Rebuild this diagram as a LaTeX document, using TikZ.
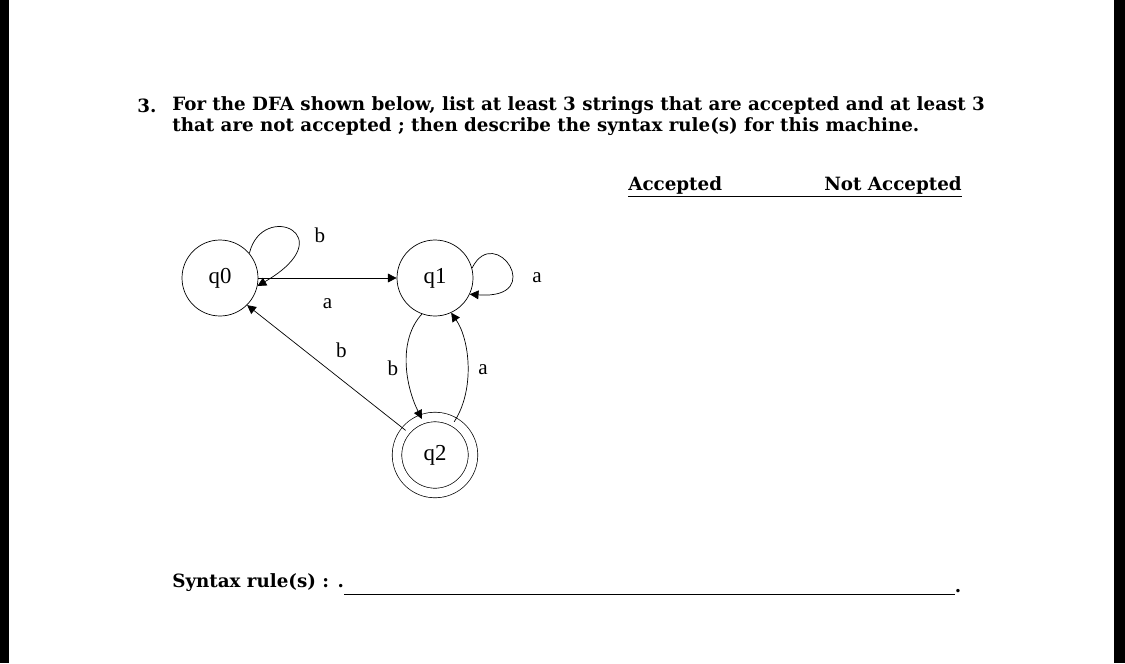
\documentclass[tikz,border=0pt]{standalone}
\usepackage{fontspec}
\setmainfont{DejaVu Serif}
\newfontfamily\statefont{Liberation Serif}
\usetikzlibrary{arrows.meta}
\begin{document}
\begin{tikzpicture}[x=0.02cm,y=-0.02cm,
    state/.style={circle,draw,inner sep=0pt,minimum size=1.52cm,font=\statefont\fontsize{13}{13}\selectfont},
    lbl/.style={font=\statefont\fontsize{12}{12}\selectfont},
    edge/.style={draw,-{Triangle[length=5pt,width=5pt]},thin}]
        \useasboundingbox (0,0) rectangle (1125,663);
        \fill (0,0) rectangle (9,663);
        \fill (1114,0) rectangle (1125,663);
        \node [anchor=west,font=\bfseries\fontsize{10.4}{12}\selectfont,inner sep=0pt] (num) at (137,106) {3.};
        \node [anchor=west,font=\bfseries\fontsize{10.4}{12}\selectfont,inner sep=0pt] (l1) at (172,106) {For the DFA shown below, list at least 3 strings that are accepted and at least 3};
        \node [anchor=west,font=\bfseries\fontsize{10.4}{12}\selectfont,inner sep=0pt] (l2) at (172,127) {that are not accepted ; then describe the syntax rule(s) for this machine.};
        \node [anchor=west,font=\bfseries\fontsize{10.4}{12}\selectfont,inner sep=0pt] (acc) at (628,185) {Accepted};
        \node [anchor=east,font=\bfseries\fontsize{10.4}{12}\selectfont,inner sep=0pt] (nacc) at (962,185) {Not Accepted};
        \draw (628,196) -- (962,196);
        \node [anchor=west,font=\bfseries\fontsize{10.4}{12}\selectfont,inner sep=0pt] (syn) at (172,583) {Syntax rule(s) : .};
        \draw (syn.east |- 0,594) -- (955,594);
        \node [font=\bfseries\fontsize{10.4}{12}\selectfont,inner sep=0pt] at (958,591) {.};
        % states
        \node [state] (q0) at (220,278) {q0};
        \node [state] (q1) at (435,278) {q1};
        \node [state,double,double distance=5pt] (q2) at (435,455) {q2};
        % transitions
        \draw [edge] (q0.east) -- node [lbl,below=8pt] {a} (q1.west);
        \draw [edge] (q0.40) .. controls (262,200) and (345,235) .. (q0.-12);
        \node [lbl] at (320,235) {b};
        \draw [edge] (q1.15) .. controls (495,222) and (548,300) .. (q1.-25);
        \node [lbl] at (537,278) {a};
        \draw [edge] (q1.-110) .. controls (398,340) and (405,385) .. (q2.110);
        \node [lbl] at (393,368) {b};
        \draw [edge] (q2.60) .. controls (475,390) and (470,340) .. (q1.-65);
        \node [lbl] at (483,370) {a};
        \draw [edge] (q2.140) -- node [lbl,above right=2pt] {b} (q0.-45);
\end{tikzpicture}
\end{document}
